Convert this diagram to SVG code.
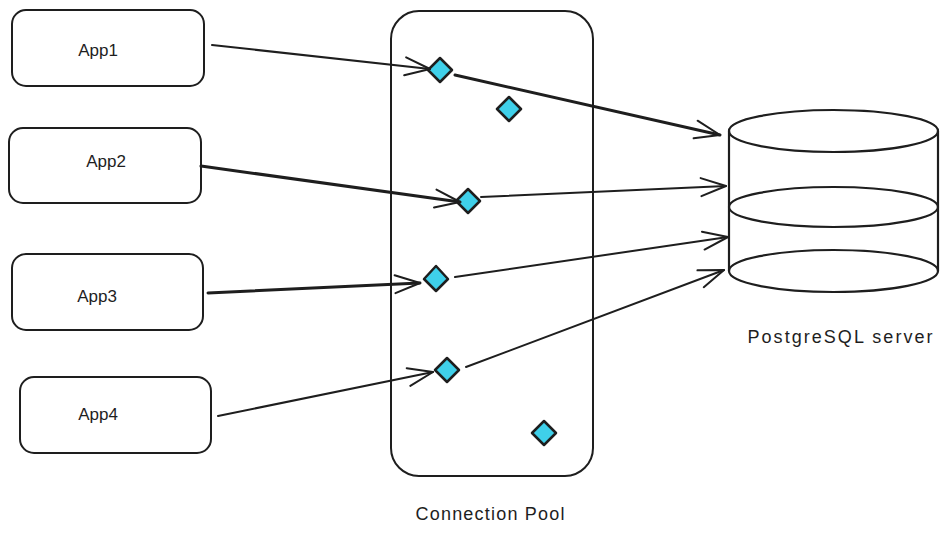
<svg xmlns="http://www.w3.org/2000/svg" width="949" height="536" viewBox="0 0 949 536">
<style>
.box{fill:#fff;stroke:#1e1e1e;stroke-width:2}
.lbl{font-family:"Liberation Sans",Arial,sans-serif;font-size:17px;fill:#1e1e1e}
.big{font-size:18px}
.dia{fill:#3fd0ea;stroke:#1e1e1e;stroke-width:2.5;stroke-linejoin:round}
.edge{fill:none;stroke:#1e1e1e;stroke-width:2;stroke-linecap:round}
.thick{stroke-width:3}
.cyl{fill:none;stroke:#1e1e1e;stroke-width:2.2}
</style>
<defs>
<marker id="arr" markerUnits="userSpaceOnUse" markerWidth="30" markerHeight="24" viewBox="-2 -2 30 24" refX="25" refY="9" orient="auto">
<path d="M0,0 L25,9 L0,18" fill="none" stroke="#1e1e1e" stroke-width="2" stroke-linecap="round" stroke-linejoin="round"/>
</marker>
</defs>
<rect width="949" height="536" fill="#fff"/>
<g id="pool">
<rect class="box" x="391" y="11" width="202" height="465" rx="28"/>
<text class="lbl big" x="490" y="520" text-anchor="middle" textLength="149" lengthAdjust="spacing">Connection Pool</text>
</g>
<g id="app1"><rect class="box" x="12" y="10" width="192" height="76" rx="14"/><text class="lbl" x="98" y="56" text-anchor="middle">App1</text></g>
<g id="app2"><rect class="box" x="9" y="128" width="192" height="75" rx="14"/><text class="lbl" x="106" y="167" text-anchor="middle">App2</text></g>
<g id="app3"><rect class="box" x="12" y="254" width="191" height="76" rx="14"/><text class="lbl" x="97" y="302" text-anchor="middle">App3</text></g>
<g id="app4"><rect class="box" x="20" y="377" width="191" height="76" rx="14"/><text class="lbl" x="98" y="420" text-anchor="middle">App4</text></g>
<g id="postgres">
<line class="cyl" x1="729" y1="131" x2="729" y2="271"/>
<line class="cyl" x1="938" y1="131" x2="938" y2="271"/>
<ellipse class="cyl" cx="833.5" cy="131" rx="104.5" ry="21" fill="#fff"/>
<ellipse class="cyl" cx="833.5" cy="207" rx="104.5" ry="20"/>
<ellipse class="cyl" cx="833.5" cy="271" rx="104.5" ry="21"/>
<text class="lbl big" x="840" y="343" text-anchor="middle" textLength="185" lengthAdjust="spacing">PostgreSQL server</text>
</g>
<g id="connections">
<path id="c1" class="dia" d="M440,58 L452,70 L440,82 L428,70 Z"/>
<path id="c2" class="dia" d="M509,97 L521,109 L509,121 L497,109 Z"/>
<path id="c3" class="dia" d="M468,189 L480,201 L468,213 L456,201 Z"/>
<path id="c4" class="dia" d="M436,266 L448,279 L436,291 L424,279 Z"/>
<path id="c5" class="dia" d="M447,358 L459,370 L447,382 L435,370 Z"/>
<path id="c6" class="dia" d="M544,421 L556,433 L544,445 L532,433 Z"/>
</g>
<g id="connectors">
<path class="edge" d="M212,45 L430,69" marker-end="url(#arr)"/>
<path class="edge thick" d="M455,75 L720,135" marker-end="url(#arr)"/>
<path class="edge thick" d="M201,166 L460,202" marker-end="url(#arr)"/>
<path class="edge" d="M481,197 L726,186" marker-end="url(#arr)"/>
<path class="edge thick" d="M208,293 L420,283" marker-end="url(#arr)"/>
<path class="edge" d="M455,277 L728,237" marker-end="url(#arr)"/>
<path class="edge" d="M218,416 L433,372" marker-end="url(#arr)"/>
<path class="edge" d="M466,367 L724,270" marker-end="url(#arr)"/>
</g>
</svg>
